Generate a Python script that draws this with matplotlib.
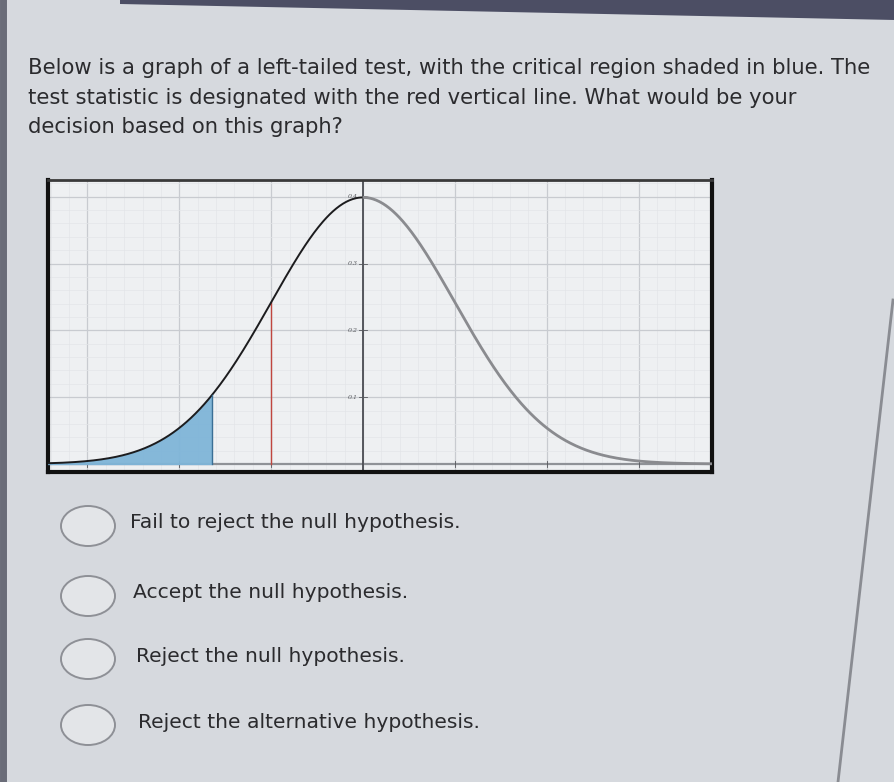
import numpy as np
import matplotlib
matplotlib.use("Agg")
import matplotlib.pyplot as plt
from matplotlib.patches import Ellipse, Polygon

# ---- data ----
mean = 0.0
sd = 1.0
critical_value = -1.645
test_statistic = -1.0
x_limits = (-3.43, 3.8)
y_limits = (-0.012, 0.425)
y_tick_values = [0.1, 0.2, 0.3, 0.4]
y_tick_labels = ["0.1", "0.2", "0.3", "0.4"]
x_grid_values = [-3, -2, -1, 0, 1, 2, 3]

question_lines = [
    "Below is a graph of a left-tailed test, with the critical region shaded in blue. The",
    "test statistic is designated with the red vertical line. What would be your",
    "decision based on this graph?",
]
options = [
    "Fail to reject the null hypothesis.",
    "Accept the null hypothesis.",
    "Reject the null hypothesis.",
    "Reject the alternative hypothesis.",
]

W, H = 895, 782
fig = plt.figure(figsize=(W / 100, H / 100), dpi=100)
fig.patch.set_facecolor("#d6d9de")

# background / decoration axes in pixel coordinates
bg = fig.add_axes([0, 0, 1, 1])
bg.set_xlim(0, W)
bg.set_ylim(H, 0)
bg.axis("off")
bg.add_patch(Polygon([[120, 0], [W, 0], [W, 20], [120, 4]], closed=True,
                     facecolor="#4c4e64", edgecolor="none"))
bg.plot([3, 3], [0, H], color="#6a6c78", lw=5)
bg.plot([893, 838], [300, H], color="#8a8c92", lw=2)

# question text
for i, line in enumerate(question_lines):
    bg.text(28, 68 + i * 29.5, line, fontsize=15.2, color="#2b2b2e",
            va="center", ha="left", family="DejaVu Sans")

# radio options
option_y = [526, 596, 659, 725]
label_x = [130, 133, 136, 138]
for yy, lx, txt in zip(option_y, label_x, options):
    bg.add_patch(Ellipse((88, yy), 54, 40, facecolor="#e3e5e8",
                         edgecolor="#8e9096", lw=1.4))
    bg.text(lx, yy - 3, txt, fontsize=14.6, color="#2b2b2e",
            va="center", ha="left", family="DejaVu Sans")

# ---- the graph ----
left, right, top, bottom = 48, 712, 180, 472
ax = fig.add_axes([left / W, 1 - bottom / H, (right - left) / W, (bottom - top) / H])
ax.set_facecolor("#eef0f2")
ax.set_xlim(*x_limits)
ax.set_ylim(*y_limits)

# grid
ax.set_xticks(x_grid_values)
ax.set_xticks(np.arange(-3.4, 3.9, 0.2), minor=True)
ax.set_yticks(y_tick_values)
ax.set_yticks(np.arange(0, 0.43, 0.02), minor=True)
ax.grid(which="major", color="#c8cbd0", lw=0.9)
ax.grid(which="minor", color="#e3e5e8", lw=0.5)
ax.tick_params(which="both", length=0, labelbottom=False, labelleft=False)
ax.set_axisbelow(True)

for s in ["left", "right", "bottom"]:
    ax.spines[s].set_linewidth(3)
    ax.spines[s].set_color("#111111")
ax.spines["top"].set_linewidth(2)
ax.spines["top"].set_color("#3a3a3a")

# axes through origin
ax.axhline(0, color="#8f9297", lw=1.6, zorder=2)
ax.axvline(0, color="#4a4c52", lw=1.3, zorder=2)
for v, lab in zip(y_tick_values, y_tick_labels):
    ax.text(-0.06, v, lab, fontsize=4.5, color="#55575c", ha="right",
            va="center", family="DejaVu Serif", style="italic")
    ax.plot([-0.04, 0.04], [v, v], color="#55575c", lw=0.6)
for v in x_grid_values:
    ax.plot([v, v], [-0.004, 0.004], color="#55575c", lw=0.6)

# curve
xs = np.linspace(x_limits[0], x_limits[1], 600)
pdf = np.exp(-0.5 * ((xs - mean) / sd) ** 2) / (sd * np.sqrt(2 * np.pi))
left_part = xs <= 0.05
ax.plot(xs[left_part], pdf[left_part], color="#1c1c1e", lw=1.4, zorder=4)
ax.plot(xs[xs >= 0], pdf[xs >= 0], color="#8a8b8f", lw=2.0, zorder=4)

# critical region
crit = xs <= critical_value
ax.fill_between(xs[crit], 0, pdf[crit], color="#7fb5d8", alpha=0.95, zorder=3)
pdf_crit = np.exp(-0.5 * ((critical_value - mean) / sd) ** 2) / (sd * np.sqrt(2 * np.pi))
ax.plot([critical_value, critical_value], [0, pdf_crit], color="#3a6f95", lw=1.0, zorder=4)

# test statistic
pdf_ts = np.exp(-0.5 * ((test_statistic - mean) / sd) ** 2) / (sd * np.sqrt(2 * np.pi))
ax.plot([test_statistic, test_statistic], [0, pdf_ts], color="#c0463f", lw=1.0, zorder=3)

fig.savefig("out.png", dpi=100, facecolor=fig.get_facecolor())
